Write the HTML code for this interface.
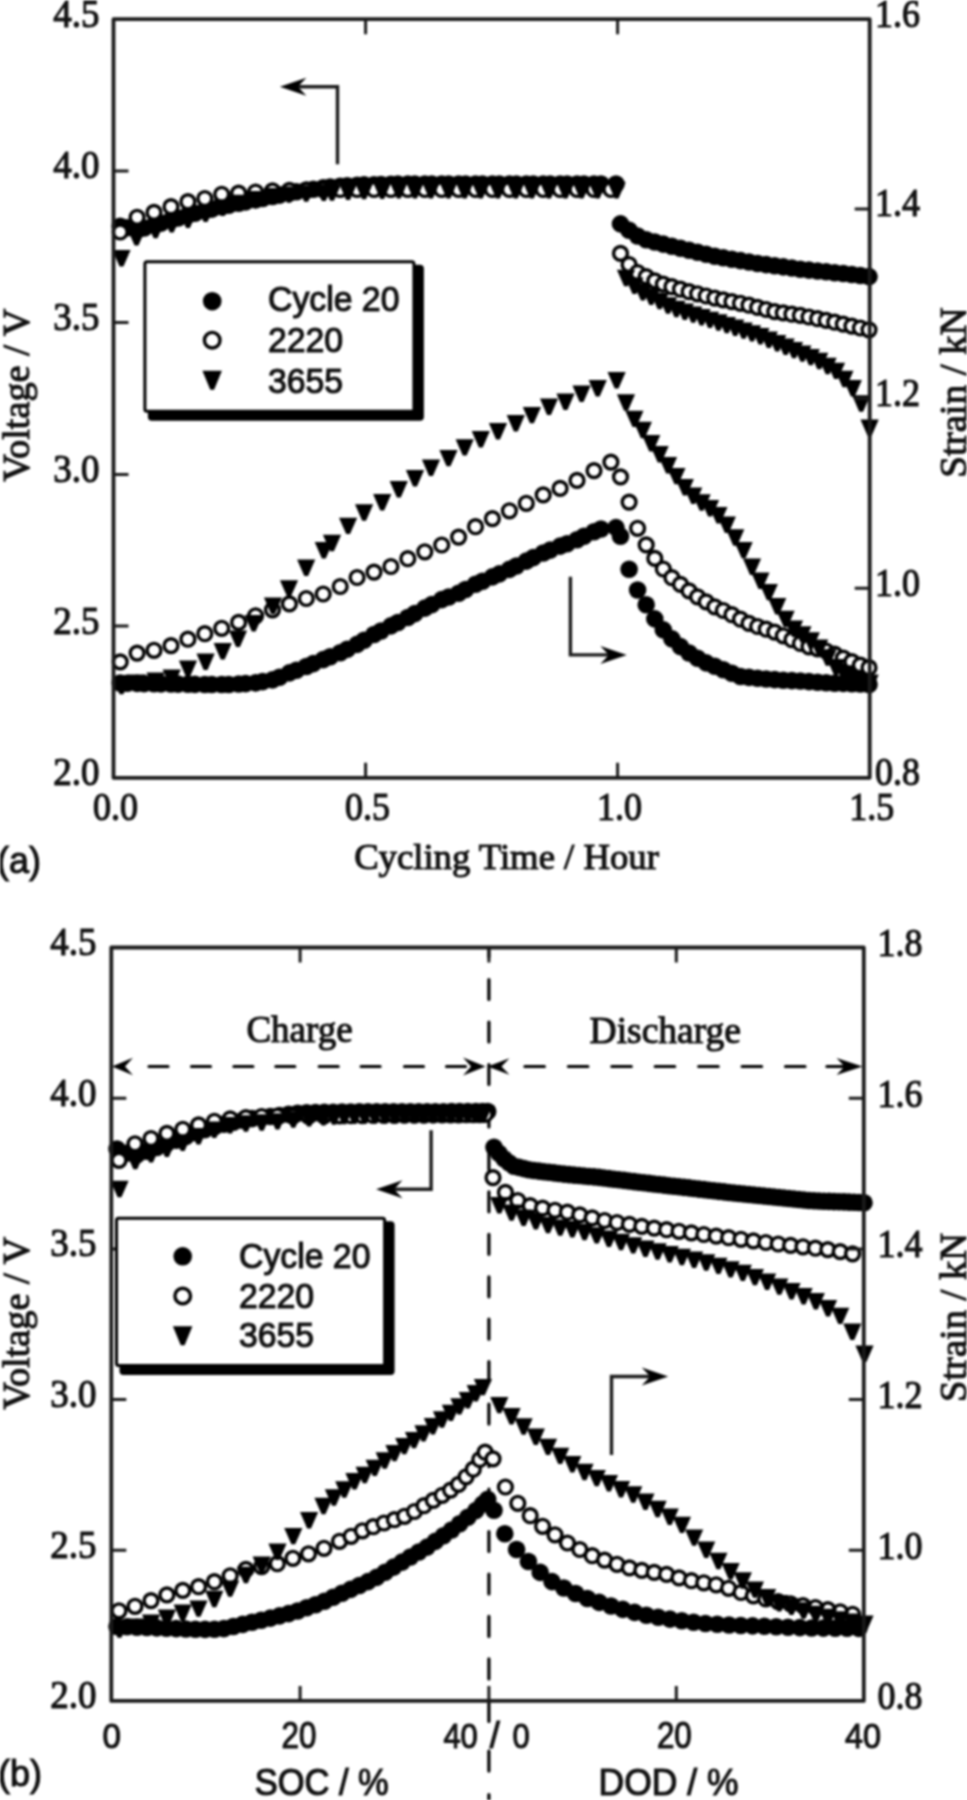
<!DOCTYPE html>
<html><head><meta charset="utf-8"><title>Figure</title>
<style>html,body{margin:0;padding:0;background:#fff;}body{width:967px;height:1800px;overflow:hidden;}svg{display:block;filter:blur(1px);}</style>
</head><body>
<svg width="967" height="1800" viewBox="0 0 967 1800">
<rect width="967" height="1800" fill="#fff"/>
<g fill="#000"><circle cx="120.2" cy="683.0" r="8.8"/><circle cx="127.2" cy="683.2" r="8.8"/><circle cx="137.1" cy="683.4" r="8.8"/><circle cx="144.1" cy="683.6" r="8.8"/><circle cx="154.0" cy="683.7" r="8.8"/><circle cx="161.0" cy="683.9" r="8.8"/><circle cx="171.0" cy="684.0" r="8.8"/><circle cx="178.0" cy="684.1" r="8.8"/><circle cx="187.9" cy="684.3" r="8.8"/><circle cx="194.9" cy="684.4" r="8.8"/><circle cx="204.8" cy="684.5" r="8.8"/><circle cx="211.8" cy="684.5" r="8.8"/><circle cx="221.7" cy="684.5" r="8.8"/><circle cx="228.7" cy="684.5" r="8.8"/><circle cx="238.6" cy="684.0" r="8.8"/><circle cx="245.6" cy="683.6" r="8.8"/><circle cx="255.6" cy="682.9" r="8.8"/><circle cx="262.6" cy="681.6" r="8.8"/><circle cx="272.5" cy="679.9" r="8.8"/><circle cx="279.5" cy="677.2" r="8.8"/><circle cx="289.4" cy="672.9" r="8.8"/><circle cx="296.4" cy="670.2" r="8.8"/><circle cx="306.3" cy="666.5" r="8.8"/><circle cx="313.3" cy="663.6" r="8.8"/><circle cx="323.2" cy="659.6" r="8.8"/><circle cx="330.2" cy="656.8" r="8.8"/><circle cx="340.2" cy="652.7" r="8.8"/><circle cx="347.2" cy="649.3" r="8.8"/><circle cx="357.1" cy="644.4" r="8.8"/><circle cx="364.1" cy="640.2" r="8.8"/><circle cx="374.0" cy="634.5" r="8.8"/><circle cx="381.0" cy="631.0" r="8.8"/><circle cx="390.9" cy="625.9" r="8.8"/><circle cx="397.9" cy="622.5" r="8.8"/><circle cx="407.8" cy="617.5" r="8.8"/><circle cx="414.8" cy="613.6" r="8.8"/><circle cx="424.8" cy="608.1" r="8.8"/><circle cx="431.8" cy="604.6" r="8.8"/><circle cx="441.7" cy="599.6" r="8.8"/><circle cx="448.7" cy="597.0" r="8.8"/><circle cx="458.6" cy="593.2" r="8.8"/><circle cx="465.6" cy="589.5" r="8.8"/><circle cx="475.5" cy="584.3" r="8.8"/><circle cx="482.5" cy="581.3" r="8.8"/><circle cx="492.4" cy="576.9" r="8.8"/><circle cx="499.4" cy="573.9" r="8.8"/><circle cx="509.4" cy="569.4" r="8.8"/><circle cx="516.4" cy="566.0" r="8.8"/><circle cx="526.3" cy="561.1" r="8.8"/><circle cx="533.3" cy="557.6" r="8.8"/><circle cx="543.2" cy="553.0" r="8.8"/><circle cx="550.2" cy="550.1" r="8.8"/><circle cx="560.1" cy="546.1" r="8.8"/><circle cx="567.1" cy="543.7" r="8.8"/><circle cx="577.0" cy="539.8" r="8.8"/><circle cx="584.0" cy="536.3" r="8.8"/><circle cx="594.0" cy="531.8" r="8.8"/><circle cx="601.0" cy="529.0" r="8.8"/><circle cx="616.0" cy="527.6" r="8.8"/><circle cx="620.5" cy="536.2" r="8.8"/><circle cx="629.1" cy="569.3" r="8.8"/><circle cx="637.6" cy="590.0" r="8.8"/><circle cx="646.2" cy="604.7" r="8.8"/><circle cx="654.8" cy="618.9" r="8.8"/><circle cx="663.3" cy="629.9" r="8.8"/><circle cx="671.9" cy="638.9" r="8.8"/><circle cx="680.5" cy="646.6" r="8.8"/><circle cx="689.1" cy="653.0" r="8.8"/><circle cx="697.6" cy="658.2" r="8.8"/><circle cx="706.2" cy="662.9" r="8.8"/><circle cx="714.8" cy="666.3" r="8.8"/><circle cx="723.3" cy="669.7" r="8.8"/><circle cx="731.9" cy="673.2" r="8.8"/><circle cx="740.5" cy="676.5" r="8.8"/><circle cx="749.0" cy="677.4" r="8.8"/><circle cx="757.6" cy="678.3" r="8.8"/><circle cx="766.2" cy="679.0" r="8.8"/><circle cx="774.7" cy="679.6" r="8.8"/><circle cx="783.3" cy="680.2" r="8.8"/><circle cx="791.9" cy="680.6" r="8.8"/><circle cx="800.4" cy="681.0" r="8.8"/><circle cx="809.0" cy="681.6" r="8.8"/><circle cx="817.6" cy="682.2" r="8.8"/><circle cx="826.2" cy="682.7" r="8.8"/><circle cx="834.7" cy="683.2" r="8.8"/><circle cx="843.3" cy="683.4" r="8.8"/><circle cx="851.9" cy="683.7" r="8.8"/><circle cx="860.4" cy="684.0" r="8.8"/><circle cx="869.0" cy="684.5" r="8.8"/><circle cx="120.2" cy="226.3" r="8.8"/><circle cx="127.2" cy="227.8" r="8.8"/><circle cx="137.1" cy="230.0" r="8.8"/><circle cx="144.1" cy="228.0" r="8.8"/><circle cx="154.0" cy="225.3" r="8.8"/><circle cx="161.0" cy="223.1" r="8.8"/><circle cx="171.0" cy="220.0" r="8.8"/><circle cx="178.0" cy="218.0" r="8.8"/><circle cx="187.9" cy="215.0" r="8.8"/><circle cx="194.9" cy="213.3" r="8.8"/><circle cx="204.8" cy="210.8" r="8.8"/><circle cx="211.8" cy="209.1" r="8.8"/><circle cx="221.7" cy="206.8" r="8.8"/><circle cx="228.7" cy="205.3" r="8.8"/><circle cx="238.6" cy="203.3" r="8.8"/><circle cx="245.6" cy="201.9" r="8.8"/><circle cx="255.6" cy="199.9" r="8.8"/><circle cx="262.6" cy="198.5" r="8.8"/><circle cx="272.5" cy="196.5" r="8.8"/><circle cx="279.5" cy="195.1" r="8.8"/><circle cx="289.4" cy="193.1" r="8.8"/><circle cx="296.4" cy="191.7" r="8.8"/><circle cx="306.3" cy="190.2" r="8.8"/><circle cx="313.3" cy="189.2" r="8.8"/><circle cx="323.2" cy="187.9" r="8.8"/><circle cx="330.2" cy="187.0" r="8.8"/><circle cx="340.2" cy="186.3" r="8.8"/><circle cx="347.2" cy="185.9" r="8.8"/><circle cx="357.1" cy="185.2" r="8.8"/><circle cx="364.1" cy="184.9" r="8.8"/><circle cx="374.0" cy="184.7" r="8.8"/><circle cx="381.0" cy="184.5" r="8.8"/><circle cx="390.9" cy="184.2" r="8.8"/><circle cx="397.9" cy="184.1" r="8.8"/><circle cx="407.8" cy="184.0" r="8.8"/><circle cx="414.8" cy="184.0" r="8.8"/><circle cx="424.8" cy="184.0" r="8.8"/><circle cx="431.8" cy="184.0" r="8.8"/><circle cx="441.7" cy="184.0" r="8.8"/><circle cx="448.7" cy="184.0" r="8.8"/><circle cx="458.6" cy="184.0" r="8.8"/><circle cx="465.6" cy="184.0" r="8.8"/><circle cx="475.5" cy="184.0" r="8.8"/><circle cx="482.5" cy="184.0" r="8.8"/><circle cx="492.4" cy="184.0" r="8.8"/><circle cx="499.4" cy="184.0" r="8.8"/><circle cx="509.4" cy="184.0" r="8.8"/><circle cx="516.4" cy="184.0" r="8.8"/><circle cx="526.3" cy="184.0" r="8.8"/><circle cx="533.3" cy="184.0" r="8.8"/><circle cx="543.2" cy="184.0" r="8.8"/><circle cx="550.2" cy="184.0" r="8.8"/><circle cx="560.1" cy="184.0" r="8.8"/><circle cx="567.1" cy="184.0" r="8.8"/><circle cx="577.0" cy="184.0" r="8.8"/><circle cx="584.0" cy="184.0" r="8.8"/><circle cx="594.0" cy="184.0" r="8.8"/><circle cx="601.0" cy="184.0" r="8.8"/><circle cx="616.0" cy="184.0" r="8.8"/><circle cx="620.5" cy="223.9" r="8.8"/><circle cx="629.1" cy="230.3" r="8.8"/><circle cx="637.6" cy="236.0" r="8.8"/><circle cx="646.2" cy="239.8" r="8.8"/><circle cx="654.8" cy="242.0" r="8.8"/><circle cx="663.3" cy="244.1" r="8.8"/><circle cx="671.9" cy="246.3" r="8.8"/><circle cx="680.5" cy="248.3" r="8.8"/><circle cx="689.1" cy="250.3" r="8.8"/><circle cx="697.6" cy="252.2" r="8.8"/><circle cx="706.2" cy="254.2" r="8.8"/><circle cx="714.8" cy="256.2" r="8.8"/><circle cx="723.3" cy="257.7" r="8.8"/><circle cx="731.9" cy="259.2" r="8.8"/><circle cx="740.5" cy="260.6" r="8.8"/><circle cx="749.0" cy="262.0" r="8.8"/><circle cx="757.6" cy="263.5" r="8.8"/><circle cx="766.2" cy="264.6" r="8.8"/><circle cx="774.7" cy="265.8" r="8.8"/><circle cx="783.3" cy="266.9" r="8.8"/><circle cx="791.9" cy="268.0" r="8.8"/><circle cx="800.4" cy="269.2" r="8.8"/><circle cx="809.0" cy="270.1" r="8.8"/><circle cx="817.6" cy="271.0" r="8.8"/><circle cx="826.2" cy="271.8" r="8.8"/><circle cx="834.7" cy="272.7" r="8.8"/><circle cx="843.3" cy="273.5" r="8.8"/><circle cx="851.9" cy="274.5" r="8.8"/><circle cx="860.4" cy="275.5" r="8.8"/><circle cx="869.0" cy="276.6" r="8.8"/></g><g fill="#fff" stroke="#000" stroke-width="3.4"><circle cx="120.2" cy="661.9" r="6.9"/><circle cx="137.1" cy="653.1" r="6.9"/><circle cx="154.0" cy="650.3" r="6.9"/><circle cx="171.0" cy="645.6" r="6.9"/><circle cx="187.9" cy="639.2" r="6.9"/><circle cx="204.8" cy="633.7" r="6.9"/><circle cx="221.7" cy="628.3" r="6.9"/><circle cx="238.6" cy="622.4" r="6.9"/><circle cx="255.6" cy="615.8" r="6.9"/><circle cx="272.5" cy="609.8" r="6.9"/><circle cx="289.4" cy="603.9" r="6.9"/><circle cx="306.3" cy="598.5" r="6.9"/><circle cx="323.2" cy="594.0" r="6.9"/><circle cx="340.2" cy="586.5" r="6.9"/><circle cx="357.1" cy="577.5" r="6.9"/><circle cx="374.0" cy="572.1" r="6.9"/><circle cx="390.9" cy="566.5" r="6.9"/><circle cx="407.8" cy="558.7" r="6.9"/><circle cx="424.8" cy="551.8" r="6.9"/><circle cx="441.7" cy="545.0" r="6.9"/><circle cx="458.6" cy="537.1" r="6.9"/><circle cx="475.5" cy="526.7" r="6.9"/><circle cx="492.4" cy="518.6" r="6.9"/><circle cx="509.4" cy="510.8" r="6.9"/><circle cx="526.3" cy="503.3" r="6.9"/><circle cx="543.2" cy="494.9" r="6.9"/><circle cx="560.1" cy="488.4" r="6.9"/><circle cx="577.0" cy="480.4" r="6.9"/><circle cx="594.0" cy="470.6" r="6.9"/><circle cx="610.9" cy="462.1" r="6.9"/><circle cx="620.5" cy="476.9" r="6.9"/><circle cx="629.1" cy="502.1" r="6.9"/><circle cx="637.6" cy="528.3" r="6.9"/><circle cx="646.2" cy="544.9" r="6.9"/><circle cx="654.8" cy="558.4" r="6.9"/><circle cx="663.3" cy="569.0" r="6.9"/><circle cx="671.9" cy="577.7" r="6.9"/><circle cx="680.5" cy="584.4" r="6.9"/><circle cx="689.1" cy="590.9" r="6.9"/><circle cx="697.6" cy="596.9" r="6.9"/><circle cx="706.2" cy="601.9" r="6.9"/><circle cx="714.8" cy="606.9" r="6.9"/><circle cx="723.3" cy="610.5" r="6.9"/><circle cx="731.9" cy="614.7" r="6.9"/><circle cx="740.5" cy="619.2" r="6.9"/><circle cx="749.0" cy="623.4" r="6.9"/><circle cx="757.6" cy="626.5" r="6.9"/><circle cx="766.2" cy="629.2" r="6.9"/><circle cx="774.7" cy="632.1" r="6.9"/><circle cx="783.3" cy="635.8" r="6.9"/><circle cx="791.9" cy="639.7" r="6.9"/><circle cx="800.4" cy="643.5" r="6.9"/><circle cx="809.0" cy="646.8" r="6.9"/><circle cx="817.6" cy="648.9" r="6.9"/><circle cx="826.2" cy="651.0" r="6.9"/><circle cx="834.7" cy="654.2" r="6.9"/><circle cx="843.3" cy="658.2" r="6.9"/><circle cx="851.9" cy="661.7" r="6.9"/><circle cx="860.4" cy="665.1" r="6.9"/><circle cx="869.0" cy="667.7" r="6.9"/><circle cx="120.2" cy="232.0" r="6.9"/><circle cx="137.1" cy="217.3" r="6.9"/><circle cx="154.0" cy="212.4" r="6.9"/><circle cx="171.0" cy="206.7" r="6.9"/><circle cx="187.9" cy="201.7" r="6.9"/><circle cx="204.8" cy="198.5" r="6.9"/><circle cx="221.7" cy="194.3" r="6.9"/><circle cx="238.6" cy="193.1" r="6.9"/><circle cx="255.6" cy="192.0" r="6.9"/><circle cx="272.5" cy="190.9" r="6.9"/><circle cx="289.4" cy="190.4" r="6.9"/><circle cx="306.3" cy="189.9" r="6.9"/><circle cx="323.2" cy="189.7" r="6.9"/><circle cx="340.2" cy="189.5" r="6.9"/><circle cx="357.1" cy="189.5" r="6.9"/><circle cx="374.0" cy="189.5" r="6.9"/><circle cx="390.9" cy="189.5" r="6.9"/><circle cx="407.8" cy="189.5" r="6.9"/><circle cx="424.8" cy="189.5" r="6.9"/><circle cx="441.7" cy="189.5" r="6.9"/><circle cx="458.6" cy="189.5" r="6.9"/><circle cx="475.5" cy="189.5" r="6.9"/><circle cx="492.4" cy="189.5" r="6.9"/><circle cx="509.4" cy="189.5" r="6.9"/><circle cx="526.3" cy="189.5" r="6.9"/><circle cx="543.2" cy="189.5" r="6.9"/><circle cx="560.1" cy="189.5" r="6.9"/><circle cx="577.0" cy="189.5" r="6.9"/><circle cx="594.0" cy="189.5" r="6.9"/><circle cx="610.9" cy="189.5" r="6.9"/><circle cx="620.5" cy="253.4" r="6.9"/><circle cx="629.1" cy="264.5" r="6.9"/><circle cx="637.6" cy="272.5" r="6.9"/><circle cx="646.2" cy="276.7" r="6.9"/><circle cx="654.8" cy="280.9" r="6.9"/><circle cx="663.3" cy="284.1" r="6.9"/><circle cx="671.9" cy="286.7" r="6.9"/><circle cx="680.5" cy="289.2" r="6.9"/><circle cx="689.1" cy="291.7" r="6.9"/><circle cx="697.6" cy="293.8" r="6.9"/><circle cx="706.2" cy="296.0" r="6.9"/><circle cx="714.8" cy="298.1" r="6.9"/><circle cx="723.3" cy="299.9" r="6.9"/><circle cx="731.9" cy="301.6" r="6.9"/><circle cx="740.5" cy="303.3" r="6.9"/><circle cx="749.0" cy="305.2" r="6.9"/><circle cx="757.6" cy="307.4" r="6.9"/><circle cx="766.2" cy="309.5" r="6.9"/><circle cx="774.7" cy="311.6" r="6.9"/><circle cx="783.3" cy="312.9" r="6.9"/><circle cx="791.9" cy="314.2" r="6.9"/><circle cx="800.4" cy="315.4" r="6.9"/><circle cx="809.0" cy="317.0" r="6.9"/><circle cx="817.6" cy="318.7" r="6.9"/><circle cx="826.2" cy="320.4" r="6.9"/><circle cx="834.7" cy="322.2" r="6.9"/><circle cx="843.3" cy="324.1" r="6.9"/><circle cx="851.9" cy="326.1" r="6.9"/><circle cx="860.4" cy="328.0" r="6.9"/><circle cx="869.0" cy="329.8" r="6.9"/></g><g fill="#000"><path d="M112.4 677.8H130.6L123.4 694.2H119.6Z"/><path d="M127.4 674.5H145.6L138.4 690.9H134.6Z"/><path d="M146.5 672.5H164.7L157.5 688.9H153.7Z"/><path d="M162.6 669.5H180.8L173.6 685.9H169.8Z"/><path d="M178.9 660.5H197.1L189.9 676.9H186.1Z"/><path d="M196.5 653.5H214.7L207.5 669.9H203.7Z"/><path d="M213.6 643.0H231.8L224.6 659.4H220.8Z"/><path d="M228.9 630.5H247.1L239.9 646.9H236.1Z"/><path d="M244.6 615.1H262.8L255.6 631.5H251.8Z"/><path d="M263.9 597.5H282.1L274.9 613.9H271.1Z"/><path d="M279.9 580.2H298.1L290.9 596.6H287.1Z"/><path d="M297.1 559.6H315.3L308.1 576.0H304.3Z"/><path d="M314.7 542.0H332.9L325.7 558.4H321.9Z"/><path d="M322.9 534.8H341.1L333.9 551.2H330.1Z"/><path d="M339.0 517.7H357.2L350.0 534.1H346.2Z"/><path d="M355.0 504.3H373.2L366.0 520.7H362.2Z"/><path d="M373.1 494.0H391.3L384.1 510.4H380.3Z"/><path d="M389.7 481.0H407.9L400.7 497.4H396.9Z"/><path d="M405.9 470.1H424.1L416.9 486.5H413.1Z"/><path d="M421.9 459.5H440.1L432.9 475.9H429.1Z"/><path d="M439.4 449.9H457.6L450.4 466.3H446.6Z"/><path d="M455.6 439.2H473.8L466.6 455.6H462.8Z"/><path d="M471.7 431.1H489.9L482.7 447.5H478.9Z"/><path d="M488.9 423.0H507.1L499.9 439.4H496.1Z"/><path d="M506.7 415.0H524.9L517.7 431.4H513.9Z"/><path d="M522.8 406.9H541.0L533.8 423.3H530.0Z"/><path d="M539.9 398.5H558.1L550.9 414.9H547.1Z"/><path d="M556.4 393.5H574.6L567.4 409.9H563.6Z"/><path d="M572.5 385.5H590.7L583.5 401.9H579.7Z"/><path d="M588.6 380.0H606.8L599.6 396.4H595.8Z"/><path d="M607.5 372.0H625.7L618.5 388.4H614.7Z"/><path d="M616.9 394.3H635.1L627.9 410.7H624.1Z"/><path d="M625.3 410.7H643.5L636.3 427.1H632.5Z"/><path d="M633.7 421.8H651.9L644.7 438.2H640.9Z"/><path d="M642.1 435.0H660.3L653.1 451.4H649.3Z"/><path d="M650.5 446.1H668.7L661.5 462.5H657.7Z"/><path d="M658.9 457.0H677.1L669.9 473.4H666.1Z"/><path d="M667.3 467.9H685.5L678.3 484.3H674.5Z"/><path d="M675.7 479.1H693.9L686.7 495.5H682.9Z"/><path d="M684.1 487.5H702.3L695.1 503.9H691.3Z"/><path d="M692.5 494.3H710.7L703.5 510.7H699.7Z"/><path d="M700.9 500.1H719.1L711.9 516.5H708.1Z"/><path d="M709.3 507.1H727.5L720.3 523.5H716.5Z"/><path d="M717.7 516.6H735.9L728.7 533.0H724.9Z"/><path d="M726.1 529.3H744.3L737.1 545.7H733.3Z"/><path d="M734.5 541.9H752.7L745.5 558.3H741.7Z"/><path d="M742.9 558.6H761.1L753.9 575.0H750.1Z"/><path d="M751.3 572.6H769.5L762.3 589.0H758.5Z"/><path d="M759.7 583.9H777.9L770.7 600.3H766.9Z"/><path d="M768.1 598.0H786.3L779.1 614.4H775.3Z"/><path d="M776.5 610.7H794.7L787.5 627.1H783.7Z"/><path d="M784.9 620.5H803.1L795.9 636.9H792.1Z"/><path d="M793.3 626.2H811.5L804.3 642.6H800.5Z"/><path d="M801.7 632.2H819.9L812.7 648.6H808.9Z"/><path d="M810.1 639.6H828.3L821.1 656.0H817.3Z"/><path d="M818.5 649.3H836.7L829.5 665.7H825.7Z"/><path d="M826.9 658.9H845.1L837.9 675.3H834.1Z"/><path d="M835.3 665.2H853.5L846.3 681.6H842.5Z"/><path d="M843.7 669.7H861.9L854.7 686.1H850.9Z"/><path d="M852.1 672.8H870.3L863.1 689.2H859.3Z"/><path d="M860.5 674.5H878.7L871.5 690.9H867.7Z"/><path d="M112.4 250.0H130.6L123.4 266.4H119.6Z"/><path d="M127.4 229.0H145.6L138.4 245.4H134.6Z"/><path d="M146.5 221.9H164.7L157.5 238.3H153.7Z"/><path d="M162.6 216.2H180.8L173.6 232.6H169.8Z"/><path d="M178.9 211.5H197.1L189.9 227.9H186.1Z"/><path d="M196.5 205.7H214.7L207.5 222.1H203.7Z"/><path d="M213.6 199.6H231.8L224.6 216.0H220.8Z"/><path d="M228.9 194.7H247.1L239.9 211.1H236.1Z"/><path d="M244.6 191.0H262.8L255.6 207.4H251.8Z"/><path d="M263.9 187.9H282.1L274.9 204.3H271.1Z"/><path d="M279.9 186.4H298.1L290.9 202.8H287.1Z"/><path d="M297.1 185.3H315.3L308.1 201.7H304.3Z"/><path d="M314.7 184.7H332.9L325.7 201.1H321.9Z"/><path d="M322.9 184.4H341.1L333.9 200.8H330.1Z"/><path d="M339.0 183.6H357.2L350.0 200.0H346.2Z"/><path d="M355.0 182.9H373.2L366.0 199.3H362.2Z"/><path d="M373.1 182.5H391.3L384.1 198.9H380.3Z"/><path d="M389.7 182.1H407.9L400.7 198.5H396.9Z"/><path d="M405.9 182.0H424.1L416.9 198.4H413.1Z"/><path d="M421.9 182.0H440.1L432.9 198.4H429.1Z"/><path d="M439.4 182.0H457.6L450.4 198.4H446.6Z"/><path d="M455.6 182.0H473.8L466.6 198.4H462.8Z"/><path d="M471.7 182.0H489.9L482.7 198.4H478.9Z"/><path d="M488.9 182.0H507.1L499.9 198.4H496.1Z"/><path d="M506.7 182.0H524.9L517.7 198.4H513.9Z"/><path d="M522.8 182.0H541.0L533.8 198.4H530.0Z"/><path d="M539.9 182.0H558.1L550.9 198.4H547.1Z"/><path d="M556.4 182.0H574.6L567.4 198.4H563.6Z"/><path d="M572.5 182.0H590.7L583.5 198.4H579.7Z"/><path d="M588.6 182.0H606.8L599.6 198.4H595.8Z"/><path d="M607.5 182.0H625.7L618.5 198.4H614.7Z"/><path d="M616.9 269.8H635.1L627.9 286.2H624.1Z"/><path d="M625.3 277.6H643.5L636.3 294.0H632.5Z"/><path d="M633.7 284.1H651.9L644.7 300.5H640.9Z"/><path d="M642.1 288.6H660.3L653.1 305.0H649.3Z"/><path d="M650.5 292.9H668.7L661.5 309.3H657.7Z"/><path d="M658.9 297.3H677.1L669.9 313.7H666.1Z"/><path d="M667.3 300.8H685.5L678.3 317.2H674.5Z"/><path d="M675.7 303.6H693.9L686.7 320.0H682.9Z"/><path d="M684.1 306.4H702.3L695.1 322.8H691.3Z"/><path d="M692.5 309.1H710.7L703.5 325.5H699.7Z"/><path d="M700.9 311.7H719.1L711.9 328.1H708.1Z"/><path d="M709.3 314.3H727.5L720.3 330.7H716.5Z"/><path d="M717.7 316.9H735.9L728.7 333.3H724.9Z"/><path d="M726.1 319.6H744.3L737.1 336.0H733.3Z"/><path d="M734.5 322.4H752.7L745.5 338.8H741.7Z"/><path d="M742.9 325.2H761.1L753.9 341.6H750.1Z"/><path d="M751.3 328.0H769.5L762.3 344.4H758.5Z"/><path d="M759.7 331.5H777.9L770.7 347.9H766.9Z"/><path d="M768.1 335.0H786.3L779.1 351.4H775.3Z"/><path d="M776.5 338.5H794.7L787.5 354.9H783.7Z"/><path d="M784.9 341.9H803.1L795.9 358.3H792.1Z"/><path d="M793.3 345.4H811.5L804.3 361.8H800.5Z"/><path d="M801.7 348.9H819.9L812.7 365.3H808.9Z"/><path d="M810.1 352.8H828.3L821.1 369.2H817.3Z"/><path d="M818.5 357.8H836.7L829.5 374.2H825.7Z"/><path d="M826.9 362.7H845.1L837.9 379.1H834.1Z"/><path d="M835.3 370.8H853.5L846.3 387.2H842.5Z"/><path d="M843.7 380.1H861.9L854.7 396.5H850.9Z"/><path d="M852.1 395.3H870.3L863.1 411.7H859.3Z"/><path d="M860.5 419.5H878.7L871.5 435.9H867.7Z"/></g>
<rect x="113.5" y="19.2" width="756.2" height="758.6" fill="none" stroke="#1a1a1a" stroke-width="3.8" stroke-linejoin="round"/><path d="M365.6 777.8V762.8M365.6 19.2V34.2M617.6 777.8V762.8M617.6 19.2V34.2M113.5 626.1H128.5M113.5 474.4H128.5M113.5 322.6H128.5M113.5 170.9H128.5M869.7 588.2H854.7M869.7 398.5H854.7M869.7 208.9H854.7" stroke="#1a1a1a" stroke-width="3" fill="none"/>
<rect x="147.9" y="264.8" width="276.0" height="156.0" rx="4" fill="#000"/><rect x="144.9" y="261.8" width="269.0" height="149.5" rx="2" fill="#fff" stroke="#000" stroke-width="3"/><circle cx="212.2" cy="301.2" r="9.3" fill="#000"/><circle cx="212.2" cy="340.2" r="7.8" fill="#fff" stroke="#000" stroke-width="3.4"/><g fill="#000"><path d="M202.4 370.8H221.9L214.1 389.8H210.3Z"/></g><text transform="translate(268.0,311.0) scale(1.0,1.06)" font-family="'Liberation Sans', Arial, sans-serif" font-size="33.8" text-anchor="start" fill="#111" stroke="#111" stroke-width="1.1" >Cycle 20</text><text transform="translate(268.0,352.0) scale(1.0,1.06)" font-family="'Liberation Sans', Arial, sans-serif" font-size="33.8" text-anchor="start" fill="#111" stroke="#111" stroke-width="1.1" >2220</text><text transform="translate(268.0,392.5) scale(1.0,1.06)" font-family="'Liberation Sans', Arial, sans-serif" font-size="33.8" text-anchor="start" fill="#111" stroke="#111" stroke-width="1.1" >3655</text>
<path d="M337.5 164.2V86.7H296" fill="none" stroke="#1a1a1a" stroke-width="3.4"/>
<path d="M279.9 86.7L306.4 77.7L297.9 86.7L306.4 95.7Z" fill="#000"/>
<path d="M570.4 576.7V654.9H612" fill="none" stroke="#1a1a1a" stroke-width="3.4"/>
<path d="M626.8 654.9L600.3 645.9L608.8 654.9L600.3 663.9Z" fill="#000"/>
<text transform="translate(99.5,785.3) scale(1.0,1.1)" font-family="'Liberation Serif', 'Times New Roman', serif" font-size="37" text-anchor="end" fill="#111" stroke="#111" stroke-width="1.1" >2.0</text>
<text transform="translate(99.5,633.6) scale(1.0,1.1)" font-family="'Liberation Serif', 'Times New Roman', serif" font-size="37" text-anchor="end" fill="#111" stroke="#111" stroke-width="1.1" >2.5</text>
<text transform="translate(99.5,481.9) scale(1.0,1.1)" font-family="'Liberation Serif', 'Times New Roman', serif" font-size="37" text-anchor="end" fill="#111" stroke="#111" stroke-width="1.1" >3.0</text>
<text transform="translate(99.5,330.1) scale(1.0,1.1)" font-family="'Liberation Serif', 'Times New Roman', serif" font-size="37" text-anchor="end" fill="#111" stroke="#111" stroke-width="1.1" >3.5</text>
<text transform="translate(99.5,178.4) scale(1.0,1.1)" font-family="'Liberation Serif', 'Times New Roman', serif" font-size="37" text-anchor="end" fill="#111" stroke="#111" stroke-width="1.1" >4.0</text>
<text transform="translate(99.5,26.7) scale(1.0,1.1)" font-family="'Liberation Serif', 'Times New Roman', serif" font-size="37" text-anchor="end" fill="#111" stroke="#111" stroke-width="1.1" >4.5</text>
<text transform="translate(875.0,785.3) scale(1.0,1.1)" font-family="'Liberation Serif', 'Times New Roman', serif" font-size="36" text-anchor="start" fill="#111" stroke="#111" stroke-width="1.1" >0.8</text>
<text transform="translate(875.0,595.7) scale(1.0,1.1)" font-family="'Liberation Serif', 'Times New Roman', serif" font-size="36" text-anchor="start" fill="#111" stroke="#111" stroke-width="1.1" >1.0</text>
<text transform="translate(875.0,406.0) scale(1.0,1.1)" font-family="'Liberation Serif', 'Times New Roman', serif" font-size="36" text-anchor="start" fill="#111" stroke="#111" stroke-width="1.1" >1.2</text>
<text transform="translate(875.0,216.4) scale(1.0,1.1)" font-family="'Liberation Serif', 'Times New Roman', serif" font-size="36" text-anchor="start" fill="#111" stroke="#111" stroke-width="1.1" >1.4</text>
<text transform="translate(875.0,26.7) scale(1.0,1.1)" font-family="'Liberation Serif', 'Times New Roman', serif" font-size="36" text-anchor="start" fill="#111" stroke="#111" stroke-width="1.1" >1.6</text>
<text transform="translate(115.5,820.3) scale(1.0,1.1)" font-family="'Liberation Serif', 'Times New Roman', serif" font-size="36" text-anchor="middle" fill="#111" stroke="#111" stroke-width="1.1" >0.0</text>
<text transform="translate(367.6,820.3) scale(1.0,1.1)" font-family="'Liberation Serif', 'Times New Roman', serif" font-size="36" text-anchor="middle" fill="#111" stroke="#111" stroke-width="1.1" >0.5</text>
<text transform="translate(619.6,820.3) scale(1.0,1.1)" font-family="'Liberation Serif', 'Times New Roman', serif" font-size="36" text-anchor="middle" fill="#111" stroke="#111" stroke-width="1.1" >1.0</text>
<text transform="translate(871.7,820.3) scale(1.0,1.1)" font-family="'Liberation Serif', 'Times New Roman', serif" font-size="36" text-anchor="middle" fill="#111" stroke="#111" stroke-width="1.1" >1.5</text>
<text transform="translate(506.5,869.4)" font-family="'Liberation Serif', 'Times New Roman', serif" font-size="36.7" text-anchor="middle" fill="#111" stroke="#111" stroke-width="1.1" >Cycling Time / Hour</text>
<text transform="translate(29.0,395.2) rotate(-90)" font-family="'Liberation Serif', 'Times New Roman', serif" font-size="38.3" text-anchor="middle" fill="#111" stroke="#111" stroke-width="1.1" >Voltage / V</text>
<text transform="translate(966.0,392.5) rotate(-90)" font-family="'Liberation Serif', 'Times New Roman', serif" font-size="38.8" text-anchor="middle" fill="#111" stroke="#111" stroke-width="1.1" >Strain / kN</text>
<text transform="translate(-3.0,873.0)" font-family="'Liberation Sans', Arial, sans-serif" font-size="36" text-anchor="start" fill="#111" stroke="#111" stroke-width="1.1" >(a)</text>
<path d="M488.9 947.5V957.1M488.9 979.5V999.5M488.9 1022.0V1042.0M488.9 1064.5V1084.5M488.9 1106.9V1126.9M488.9 1149.4V1169.4M488.9 1191.8V1211.8M488.9 1234.3V1254.3M488.9 1276.8V1296.8M488.9 1319.2V1339.2M488.9 1361.7V1381.7M488.9 1404.1V1424.1M488.9 1446.6V1466.6M488.9 1489.1V1509.1M488.9 1531.5V1551.5M488.9 1574.0V1594.0M488.9 1616.4V1636.4M488.9 1658.9V1678.9M488.9 1701.4V1721.4M488.9 1751.1V1771.1M488.9 1794.5V1800.0" stroke="#000" stroke-width="3.2" fill="none" stroke-linecap="round"/>
<g fill="#000"><circle cx="117.0" cy="1626.5" r="8.8"/><circle cx="127.0" cy="1626.8" r="8.8"/><circle cx="136.9" cy="1627.2" r="8.8"/><circle cx="146.8" cy="1627.5" r="8.8"/><circle cx="156.7" cy="1627.9" r="8.8"/><circle cx="166.4" cy="1628.2" r="8.8"/><circle cx="176.2" cy="1628.6" r="8.8"/><circle cx="185.8" cy="1629.0" r="8.8"/><circle cx="195.4" cy="1629.3" r="8.8"/><circle cx="205.0" cy="1629.4" r="8.8"/><circle cx="214.5" cy="1629.2" r="8.8"/><circle cx="223.9" cy="1628.6" r="8.8"/><circle cx="233.3" cy="1626.5" r="8.8"/><circle cx="242.7" cy="1624.4" r="8.8"/><circle cx="252.0" cy="1622.3" r="8.8"/><circle cx="261.2" cy="1620.3" r="8.8"/><circle cx="270.4" cy="1618.1" r="8.8"/><circle cx="279.5" cy="1615.9" r="8.8"/><circle cx="288.6" cy="1613.6" r="8.8"/><circle cx="297.6" cy="1611.0" r="8.8"/><circle cx="306.6" cy="1607.8" r="8.8"/><circle cx="315.5" cy="1604.7" r="8.8"/><circle cx="324.4" cy="1601.2" r="8.8"/><circle cx="333.2" cy="1597.3" r="8.8"/><circle cx="342.0" cy="1593.3" r="8.8"/><circle cx="350.7" cy="1589.4" r="8.8"/><circle cx="359.4" cy="1585.5" r="8.8"/><circle cx="368.0" cy="1581.6" r="8.8"/><circle cx="376.6" cy="1577.4" r="8.8"/><circle cx="385.1" cy="1572.2" r="8.8"/><circle cx="393.6" cy="1567.1" r="8.8"/><circle cx="402.0" cy="1562.1" r="8.8"/><circle cx="410.4" cy="1557.0" r="8.8"/><circle cx="418.8" cy="1552.0" r="8.8"/><circle cx="427.1" cy="1547.1" r="8.8"/><circle cx="435.3" cy="1541.4" r="8.8"/><circle cx="443.5" cy="1535.7" r="8.8"/><circle cx="451.6" cy="1530.0" r="8.8"/><circle cx="459.7" cy="1523.8" r="8.8"/><circle cx="467.8" cy="1517.2" r="8.8"/><circle cx="475.8" cy="1510.6" r="8.8"/><circle cx="482.5" cy="1504.1" r="8.8"/><circle cx="487.7" cy="1499.2" r="8.8"/><circle cx="494.0" cy="1510.3" r="8.8"/><circle cx="504.8" cy="1533.7" r="8.8"/><circle cx="516.6" cy="1549.5" r="8.8"/><circle cx="528.4" cy="1561.5" r="8.8"/><circle cx="540.2" cy="1572.4" r="8.8"/><circle cx="552.0" cy="1581.6" r="8.8"/><circle cx="563.8" cy="1588.0" r="8.8"/><circle cx="575.6" cy="1593.5" r="8.8"/><circle cx="587.4" cy="1598.5" r="8.8"/><circle cx="599.2" cy="1602.4" r="8.8"/><circle cx="611.0" cy="1606.0" r="8.8"/><circle cx="622.8" cy="1609.4" r="8.8"/><circle cx="634.6" cy="1612.4" r="8.8"/><circle cx="646.4" cy="1615.2" r="8.8"/><circle cx="658.2" cy="1617.2" r="8.8"/><circle cx="670.0" cy="1619.1" r="8.8"/><circle cx="681.8" cy="1620.8" r="8.8"/><circle cx="693.6" cy="1622.2" r="8.8"/><circle cx="705.4" cy="1623.5" r="8.8"/><circle cx="717.2" cy="1624.3" r="8.8"/><circle cx="729.0" cy="1625.0" r="8.8"/><circle cx="740.8" cy="1625.5" r="8.8"/><circle cx="752.6" cy="1625.9" r="8.8"/><circle cx="764.4" cy="1626.3" r="8.8"/><circle cx="776.2" cy="1626.7" r="8.8"/><circle cx="788.0" cy="1627.2" r="8.8"/><circle cx="799.8" cy="1627.6" r="8.8"/><circle cx="811.6" cy="1628.0" r="8.8"/><circle cx="823.4" cy="1628.1" r="8.8"/><circle cx="835.2" cy="1628.2" r="8.8"/><circle cx="847.0" cy="1628.3" r="8.8"/><circle cx="858.8" cy="1628.4" r="8.8"/><circle cx="117.0" cy="1149.0" r="8.8"/><circle cx="127.0" cy="1153.1" r="8.8"/><circle cx="136.9" cy="1154.9" r="8.8"/><circle cx="146.8" cy="1151.2" r="8.8"/><circle cx="156.7" cy="1147.5" r="8.8"/><circle cx="166.4" cy="1143.8" r="8.8"/><circle cx="176.2" cy="1140.2" r="8.8"/><circle cx="185.8" cy="1136.5" r="8.8"/><circle cx="195.4" cy="1132.8" r="8.8"/><circle cx="205.0" cy="1129.6" r="8.8"/><circle cx="214.5" cy="1126.9" r="8.8"/><circle cx="223.9" cy="1124.3" r="8.8"/><circle cx="233.3" cy="1122.2" r="8.8"/><circle cx="242.7" cy="1120.2" r="8.8"/><circle cx="252.0" cy="1118.6" r="8.8"/><circle cx="261.2" cy="1117.5" r="8.8"/><circle cx="270.4" cy="1116.5" r="8.8"/><circle cx="279.5" cy="1115.5" r="8.8"/><circle cx="288.6" cy="1114.4" r="8.8"/><circle cx="297.6" cy="1113.3" r="8.8"/><circle cx="306.6" cy="1112.8" r="8.8"/><circle cx="315.5" cy="1112.6" r="8.8"/><circle cx="324.4" cy="1112.4" r="8.8"/><circle cx="333.2" cy="1112.2" r="8.8"/><circle cx="342.0" cy="1112.0" r="8.8"/><circle cx="350.7" cy="1112.0" r="8.8"/><circle cx="359.4" cy="1111.9" r="8.8"/><circle cx="368.0" cy="1111.9" r="8.8"/><circle cx="376.6" cy="1111.9" r="8.8"/><circle cx="385.1" cy="1111.8" r="8.8"/><circle cx="393.6" cy="1111.8" r="8.8"/><circle cx="402.0" cy="1111.8" r="8.8"/><circle cx="410.4" cy="1111.8" r="8.8"/><circle cx="418.8" cy="1111.7" r="8.8"/><circle cx="427.1" cy="1111.7" r="8.8"/><circle cx="435.3" cy="1111.7" r="8.8"/><circle cx="443.5" cy="1111.7" r="8.8"/><circle cx="451.6" cy="1111.6" r="8.8"/><circle cx="459.7" cy="1111.6" r="8.8"/><circle cx="467.8" cy="1111.6" r="8.8"/><circle cx="475.8" cy="1111.5" r="8.8"/><circle cx="482.5" cy="1111.5" r="8.8"/><circle cx="487.7" cy="1111.5" r="8.8"/><circle cx="494.0" cy="1147.3" r="8.8"/><circle cx="499.0" cy="1153.3" r="8.8"/><circle cx="504.0" cy="1158.8" r="8.8"/><circle cx="509.0" cy="1162.8" r="8.8"/><circle cx="514.0" cy="1166.2" r="8.8"/><circle cx="519.0" cy="1167.4" r="8.8"/><circle cx="524.0" cy="1168.6" r="8.8"/><circle cx="529.0" cy="1169.8" r="8.8"/><circle cx="534.0" cy="1170.5" r="8.8"/><circle cx="539.0" cy="1171.1" r="8.8"/><circle cx="544.0" cy="1171.7" r="8.8"/><circle cx="549.0" cy="1172.3" r="8.8"/><circle cx="554.0" cy="1172.9" r="8.8"/><circle cx="559.0" cy="1173.5" r="8.8"/><circle cx="564.0" cy="1174.1" r="8.8"/><circle cx="569.0" cy="1174.6" r="8.8"/><circle cx="574.0" cy="1175.1" r="8.8"/><circle cx="579.0" cy="1175.5" r="8.8"/><circle cx="584.0" cy="1176.0" r="8.8"/><circle cx="589.0" cy="1176.5" r="8.8"/><circle cx="594.0" cy="1176.9" r="8.8"/><circle cx="599.0" cy="1177.4" r="8.8"/><circle cx="604.0" cy="1178.0" r="8.8"/><circle cx="609.0" cy="1178.6" r="8.8"/><circle cx="614.0" cy="1179.2" r="8.8"/><circle cx="619.0" cy="1179.8" r="8.8"/><circle cx="624.0" cy="1180.4" r="8.8"/><circle cx="629.0" cy="1181.0" r="8.8"/><circle cx="634.0" cy="1181.6" r="8.8"/><circle cx="639.0" cy="1182.2" r="8.8"/><circle cx="644.0" cy="1182.8" r="8.8"/><circle cx="649.0" cy="1183.4" r="8.8"/><circle cx="654.0" cy="1184.0" r="8.8"/><circle cx="659.0" cy="1184.5" r="8.8"/><circle cx="664.0" cy="1185.1" r="8.8"/><circle cx="669.0" cy="1185.7" r="8.8"/><circle cx="674.0" cy="1186.2" r="8.8"/><circle cx="679.0" cy="1186.8" r="8.8"/><circle cx="684.0" cy="1187.4" r="8.8"/><circle cx="689.0" cy="1187.9" r="8.8"/><circle cx="694.0" cy="1188.5" r="8.8"/><circle cx="699.0" cy="1189.1" r="8.8"/><circle cx="704.0" cy="1189.6" r="8.8"/><circle cx="709.0" cy="1190.2" r="8.8"/><circle cx="714.0" cy="1190.8" r="8.8"/><circle cx="719.0" cy="1191.4" r="8.8"/><circle cx="724.0" cy="1191.9" r="8.8"/><circle cx="729.0" cy="1192.5" r="8.8"/><circle cx="734.0" cy="1193.0" r="8.8"/><circle cx="739.0" cy="1193.5" r="8.8"/><circle cx="744.0" cy="1194.0" r="8.8"/><circle cx="749.0" cy="1194.5" r="8.8"/><circle cx="754.0" cy="1195.0" r="8.8"/><circle cx="759.0" cy="1195.5" r="8.8"/><circle cx="764.0" cy="1196.0" r="8.8"/><circle cx="769.0" cy="1196.5" r="8.8"/><circle cx="774.0" cy="1197.0" r="8.8"/><circle cx="779.0" cy="1197.5" r="8.8"/><circle cx="784.0" cy="1198.0" r="8.8"/><circle cx="789.0" cy="1198.5" r="8.8"/><circle cx="794.0" cy="1199.0" r="8.8"/><circle cx="799.0" cy="1199.5" r="8.8"/><circle cx="804.0" cy="1200.0" r="8.8"/><circle cx="809.0" cy="1200.5" r="8.8"/><circle cx="814.0" cy="1200.8" r="8.8"/><circle cx="819.0" cy="1201.0" r="8.8"/><circle cx="824.0" cy="1201.2" r="8.8"/><circle cx="829.0" cy="1201.4" r="8.8"/><circle cx="834.0" cy="1201.6" r="8.8"/><circle cx="839.0" cy="1201.7" r="8.8"/><circle cx="844.0" cy="1201.9" r="8.8"/><circle cx="849.0" cy="1202.1" r="8.8"/><circle cx="854.0" cy="1202.3" r="8.8"/><circle cx="859.0" cy="1202.5" r="8.8"/><circle cx="864.0" cy="1202.7" r="8.8"/></g><g fill="#fff" stroke="#000" stroke-width="3.4"><circle cx="119.0" cy="1610.8" r="6.9"/><circle cx="135.0" cy="1606.3" r="6.9"/><circle cx="151.0" cy="1600.6" r="6.9"/><circle cx="166.9" cy="1594.9" r="6.9"/><circle cx="182.8" cy="1590.4" r="6.9"/><circle cx="198.6" cy="1586.7" r="6.9"/><circle cx="214.4" cy="1581.7" r="6.9"/><circle cx="230.2" cy="1575.8" r="6.9"/><circle cx="245.9" cy="1569.4" r="6.9"/><circle cx="261.6" cy="1566.7" r="6.9"/><circle cx="277.3" cy="1563.7" r="6.9"/><circle cx="292.9" cy="1558.3" r="6.9"/><circle cx="308.5" cy="1553.8" r="6.9"/><circle cx="324.0" cy="1548.3" r="6.9"/><circle cx="339.5" cy="1541.3" r="6.9"/><circle cx="351.1" cy="1536.3" r="6.9"/><circle cx="362.4" cy="1530.8" r="6.9"/><circle cx="373.3" cy="1526.7" r="6.9"/><circle cx="384.0" cy="1523.0" r="6.9"/><circle cx="394.4" cy="1519.7" r="6.9"/><circle cx="404.5" cy="1516.3" r="6.9"/><circle cx="414.4" cy="1511.5" r="6.9"/><circle cx="424.0" cy="1505.7" r="6.9"/><circle cx="433.3" cy="1500.4" r="6.9"/><circle cx="442.2" cy="1495.3" r="6.9"/><circle cx="450.6" cy="1490.1" r="6.9"/><circle cx="458.5" cy="1484.4" r="6.9"/><circle cx="466.1" cy="1476.8" r="6.9"/><circle cx="473.3" cy="1469.2" r="6.9"/><circle cx="479.7" cy="1459.5" r="6.9"/><circle cx="485.1" cy="1452.2" r="6.9"/><circle cx="493.0" cy="1458.9" r="6.9"/><circle cx="505.4" cy="1487.0" r="6.9"/><circle cx="517.8" cy="1503.3" r="6.9"/><circle cx="530.2" cy="1515.7" r="6.9"/><circle cx="542.6" cy="1526.3" r="6.9"/><circle cx="555.0" cy="1534.8" r="6.9"/><circle cx="567.4" cy="1543.0" r="6.9"/><circle cx="579.8" cy="1549.5" r="6.9"/><circle cx="592.2" cy="1555.7" r="6.9"/><circle cx="604.6" cy="1560.1" r="6.9"/><circle cx="617.0" cy="1564.3" r="6.9"/><circle cx="629.4" cy="1567.9" r="6.9"/><circle cx="641.8" cy="1570.4" r="6.9"/><circle cx="654.2" cy="1572.4" r="6.9"/><circle cx="666.6" cy="1574.4" r="6.9"/><circle cx="679.0" cy="1577.9" r="6.9"/><circle cx="691.4" cy="1580.7" r="6.9"/><circle cx="703.8" cy="1582.8" r="6.9"/><circle cx="716.2" cy="1584.8" r="6.9"/><circle cx="728.6" cy="1588.3" r="6.9"/><circle cx="741.0" cy="1592.5" r="6.9"/><circle cx="753.4" cy="1595.9" r="6.9"/><circle cx="765.8" cy="1599.0" r="6.9"/><circle cx="778.2" cy="1601.6" r="6.9"/><circle cx="790.6" cy="1603.8" r="6.9"/><circle cx="803.0" cy="1605.7" r="6.9"/><circle cx="815.4" cy="1607.5" r="6.9"/><circle cx="827.8" cy="1609.6" r="6.9"/><circle cx="840.2" cy="1611.8" r="6.9"/><circle cx="852.6" cy="1614.3" r="6.9"/><circle cx="119.0" cy="1160.3" r="6.9"/><circle cx="135.0" cy="1143.8" r="6.9"/><circle cx="151.0" cy="1138.5" r="6.9"/><circle cx="166.9" cy="1133.4" r="6.9"/><circle cx="182.8" cy="1129.3" r="6.9"/><circle cx="198.6" cy="1124.9" r="6.9"/><circle cx="214.4" cy="1121.3" r="6.9"/><circle cx="230.2" cy="1118.9" r="6.9"/><circle cx="245.9" cy="1117.6" r="6.9"/><circle cx="261.6" cy="1116.5" r="6.9"/><circle cx="277.3" cy="1116.3" r="6.9"/><circle cx="292.9" cy="1116.2" r="6.9"/><circle cx="308.5" cy="1116.1" r="6.9"/><circle cx="324.0" cy="1115.9" r="6.9"/><circle cx="339.5" cy="1115.8" r="6.9"/><circle cx="351.1" cy="1115.7" r="6.9"/><circle cx="362.4" cy="1115.6" r="6.9"/><circle cx="373.3" cy="1115.5" r="6.9"/><circle cx="384.0" cy="1115.4" r="6.9"/><circle cx="394.4" cy="1115.3" r="6.9"/><circle cx="404.5" cy="1115.2" r="6.9"/><circle cx="414.4" cy="1115.1" r="6.9"/><circle cx="424.0" cy="1115.1" r="6.9"/><circle cx="433.3" cy="1115.0" r="6.9"/><circle cx="442.2" cy="1114.9" r="6.9"/><circle cx="450.6" cy="1114.8" r="6.9"/><circle cx="458.5" cy="1114.8" r="6.9"/><circle cx="466.1" cy="1114.7" r="6.9"/><circle cx="473.3" cy="1114.6" r="6.9"/><circle cx="479.7" cy="1114.6" r="6.9"/><circle cx="485.1" cy="1114.5" r="6.9"/><circle cx="493.0" cy="1177.6" r="6.9"/><circle cx="505.4" cy="1192.4" r="6.9"/><circle cx="517.8" cy="1200.5" r="6.9"/><circle cx="530.2" cy="1205.6" r="6.9"/><circle cx="542.6" cy="1208.1" r="6.9"/><circle cx="555.0" cy="1210.3" r="6.9"/><circle cx="567.4" cy="1212.2" r="6.9"/><circle cx="579.8" cy="1214.9" r="6.9"/><circle cx="592.2" cy="1217.9" r="6.9"/><circle cx="604.6" cy="1220.5" r="6.9"/><circle cx="617.0" cy="1222.5" r="6.9"/><circle cx="629.4" cy="1224.4" r="6.9"/><circle cx="641.8" cy="1226.4" r="6.9"/><circle cx="654.2" cy="1228.1" r="6.9"/><circle cx="666.6" cy="1229.7" r="6.9"/><circle cx="679.0" cy="1231.3" r="6.9"/><circle cx="691.4" cy="1232.9" r="6.9"/><circle cx="703.8" cy="1234.5" r="6.9"/><circle cx="716.2" cy="1236.1" r="6.9"/><circle cx="728.6" cy="1237.7" r="6.9"/><circle cx="741.0" cy="1239.3" r="6.9"/><circle cx="753.4" cy="1240.9" r="6.9"/><circle cx="765.8" cy="1242.5" r="6.9"/><circle cx="778.2" cy="1244.0" r="6.9"/><circle cx="790.6" cy="1245.4" r="6.9"/><circle cx="803.0" cy="1246.8" r="6.9"/><circle cx="815.4" cy="1248.2" r="6.9"/><circle cx="827.8" cy="1249.6" r="6.9"/><circle cx="840.2" cy="1251.6" r="6.9"/><circle cx="852.6" cy="1253.8" r="6.9"/></g><g fill="#000"><path d="M110.4 1621.4H128.6L121.4 1637.8H117.6Z"/><path d="M126.2 1618.5H144.4L137.2 1634.9H133.4Z"/><path d="M142.0 1614.5H160.2L153.0 1630.9H149.2Z"/><path d="M157.8 1609.5H176.0L168.8 1625.9H165.0Z"/><path d="M173.6 1604.5H191.8L184.6 1620.9H180.8Z"/><path d="M189.4 1600.4H207.6L200.4 1616.8H196.6Z"/><path d="M205.2 1590.8H223.4L216.2 1607.2H212.4Z"/><path d="M221.0 1580.4H239.2L232.0 1596.8H228.2Z"/><path d="M236.8 1566.8H255.0L247.8 1583.2H244.0Z"/><path d="M252.6 1556.6H270.8L263.6 1573.0H259.8Z"/><path d="M268.4 1543.6H286.6L279.4 1560.0H275.6Z"/><path d="M284.2 1527.9H302.4L295.2 1544.3H291.4Z"/><path d="M300.0 1512.1H318.2L311.0 1528.5H307.2Z"/><path d="M314.4 1497.8H332.6L325.4 1514.2H321.6Z"/><path d="M324.8 1489.3H343.0L335.8 1505.7H332.0Z"/><path d="M335.2 1481.3H353.4L346.2 1497.7H342.4Z"/><path d="M345.4 1473.1H363.6L356.4 1489.5H352.6Z"/><path d="M355.6 1466.8H373.8L366.6 1483.2H362.8Z"/><path d="M365.6 1459.7H383.8L376.6 1476.1H372.8Z"/><path d="M375.6 1452.3H393.8L386.6 1468.7H382.8Z"/><path d="M385.4 1444.9H403.6L396.4 1461.3H392.6Z"/><path d="M395.2 1437.9H413.4L406.2 1454.3H402.4Z"/><path d="M404.9 1431.9H423.1L415.9 1448.3H412.1Z"/><path d="M414.4 1425.2H432.6L425.4 1441.6H421.6Z"/><path d="M423.8 1418.1H442.0L434.8 1434.5H431.0Z"/><path d="M432.9 1411.3H451.1L443.9 1427.7H440.1Z"/><path d="M441.8 1404.7H460.0L452.8 1421.1H449.0Z"/><path d="M450.3 1398.2H468.5L461.3 1414.6H457.5Z"/><path d="M458.7 1392.0H476.9L469.7 1408.4H465.9Z"/><path d="M466.7 1385.0H484.9L477.7 1401.4H473.9Z"/><path d="M473.8 1378.9H492.0L484.8 1395.3H481.0Z"/><path d="M490.2 1396.9H508.4L501.2 1413.3H497.4Z"/><path d="M502.4 1408.1H520.6L513.4 1424.5H509.6Z"/><path d="M514.5 1418.3H532.7L525.5 1434.7H521.7Z"/><path d="M526.7 1428.5H544.9L537.7 1444.9H533.9Z"/><path d="M538.9 1438.7H557.1L549.9 1455.1H546.1Z"/><path d="M551.1 1447.7H569.3L562.1 1464.1H558.3Z"/><path d="M563.2 1456.0H581.4L574.2 1472.4H570.4Z"/><path d="M575.4 1463.8H593.6L586.4 1480.2H582.6Z"/><path d="M587.6 1469.9H605.8L598.6 1486.3H594.8Z"/><path d="M599.8 1475.1H618.0L610.8 1491.5H607.0Z"/><path d="M611.9 1481.0H630.1L622.9 1497.5H619.1Z"/><path d="M624.1 1486.3H642.3L635.1 1502.7H631.3Z"/><path d="M636.3 1493.6H654.5L647.3 1510.0H643.5Z"/><path d="M648.5 1500.8H666.7L659.5 1517.2H655.7Z"/><path d="M660.6 1508.5H678.8L671.6 1524.9H667.8Z"/><path d="M672.8 1516.7H691.0L683.8 1533.1H680.0Z"/><path d="M685.0 1529.4H703.2L696.0 1545.8H692.2Z"/><path d="M697.1 1541.5H715.3L708.1 1557.9H704.3Z"/><path d="M709.3 1552.8H727.5L720.3 1569.2H716.5Z"/><path d="M721.5 1563.1H739.7L732.5 1579.5H728.7Z"/><path d="M733.7 1572.3H751.9L744.7 1588.7H740.9Z"/><path d="M745.8 1581.4H764.0L756.8 1597.8H753.0Z"/><path d="M758.0 1589.1H776.2L769.0 1605.5H765.2Z"/><path d="M770.2 1595.0H788.4L781.2 1611.4H777.4Z"/><path d="M782.4 1598.6H800.6L793.4 1615.0H789.6Z"/><path d="M794.5 1602.3H812.7L805.5 1618.7H801.7Z"/><path d="M806.7 1605.7H824.9L817.7 1622.1H813.9Z"/><path d="M818.9 1608.7H837.1L829.9 1625.1H826.1Z"/><path d="M831.1 1611.2H849.3L842.1 1627.6H838.3Z"/><path d="M843.2 1613.5H861.4L854.2 1629.9H850.4Z"/><path d="M855.4 1615.5H873.6L866.4 1631.9H862.6Z"/><path d="M110.4 1180.8H128.6L121.4 1197.2H117.6Z"/><path d="M126.2 1152.9H144.4L137.2 1169.3H133.4Z"/><path d="M142.0 1146.0H160.2L153.0 1162.4H149.2Z"/><path d="M157.8 1140.7H176.0L168.8 1157.1H165.0Z"/><path d="M173.6 1134.5H191.8L184.6 1150.9H180.8Z"/><path d="M189.4 1128.1H207.6L200.4 1144.5H196.6Z"/><path d="M205.2 1121.6H223.4L216.2 1138.0H212.4Z"/><path d="M221.0 1117.0H239.2L232.0 1133.4H228.2Z"/><path d="M236.8 1115.3H255.0L247.8 1131.7H244.0Z"/><path d="M252.6 1114.3H270.8L263.6 1130.7H259.8Z"/><path d="M268.4 1113.2H286.6L279.4 1129.6H275.6Z"/><path d="M284.2 1111.3H302.4L295.2 1127.7H291.4Z"/><path d="M300.0 1110.0H318.2L311.0 1126.4H307.2Z"/><path d="M314.4 1109.1H332.6L325.4 1125.5H321.6Z"/><path d="M324.8 1108.4H343.0L335.8 1124.8H332.0Z"/><path d="M335.2 1107.9H353.4L346.2 1124.3H342.4Z"/><path d="M345.4 1107.7H363.6L356.4 1124.1H352.6Z"/><path d="M355.6 1107.4H373.8L366.6 1123.8H362.8Z"/><path d="M365.6 1107.2H383.8L376.6 1123.6H372.8Z"/><path d="M375.6 1107.0H393.8L386.6 1123.4H382.8Z"/><path d="M385.4 1107.0H403.6L396.4 1123.4H392.6Z"/><path d="M395.2 1106.9H413.4L406.2 1123.3H402.4Z"/><path d="M404.9 1106.9H423.1L415.9 1123.3H412.1Z"/><path d="M414.4 1106.8H432.6L425.4 1123.2H421.6Z"/><path d="M423.8 1106.8H442.0L434.8 1123.2H431.0Z"/><path d="M432.9 1106.7H451.1L443.9 1123.1H440.1Z"/><path d="M441.8 1106.7H460.0L452.8 1123.1H449.0Z"/><path d="M450.3 1106.7H468.5L461.3 1123.1H457.5Z"/><path d="M458.7 1106.6H476.9L469.7 1123.0H465.9Z"/><path d="M466.7 1106.6H484.9L477.7 1123.0H473.9Z"/><path d="M473.8 1106.6H492.0L484.8 1123.0H481.0Z"/><path d="M490.2 1197.0H508.4L501.2 1213.4H497.4Z"/><path d="M502.4 1204.4H520.6L513.4 1220.8H509.6Z"/><path d="M514.5 1209.5H532.7L525.5 1225.9H521.7Z"/><path d="M526.7 1213.1H544.9L537.7 1229.5H533.9Z"/><path d="M538.9 1216.9H557.1L549.9 1233.3H546.1Z"/><path d="M551.1 1219.4H569.3L562.1 1235.8H558.3Z"/><path d="M563.2 1221.1H581.4L574.2 1237.5H570.4Z"/><path d="M575.4 1223.8H593.6L586.4 1240.2H582.6Z"/><path d="M587.6 1227.2H605.8L598.6 1243.6H594.8Z"/><path d="M599.8 1230.5H618.0L610.8 1246.9H607.0Z"/><path d="M611.9 1233.8H630.1L622.9 1250.2H619.1Z"/><path d="M624.1 1237.2H642.3L635.1 1253.6H631.3Z"/><path d="M636.3 1240.5H654.5L647.3 1256.9H643.5Z"/><path d="M648.5 1243.3H666.7L659.5 1259.7H655.7Z"/><path d="M660.6 1246.0H678.8L671.6 1262.4H667.8Z"/><path d="M672.8 1248.8H691.0L683.8 1265.2H680.0Z"/><path d="M685.0 1251.5H703.2L696.0 1267.9H692.2Z"/><path d="M697.1 1254.3H715.3L708.1 1270.7H704.3Z"/><path d="M709.3 1257.7H727.5L720.3 1274.1H716.5Z"/><path d="M721.5 1261.2H739.7L732.5 1277.6H728.7Z"/><path d="M733.7 1264.7H751.9L744.7 1281.1H740.9Z"/><path d="M745.8 1268.9H764.0L756.8 1285.3H753.0Z"/><path d="M758.0 1273.6H776.2L769.0 1290.0H765.2Z"/><path d="M770.2 1278.4H788.4L781.2 1294.8H777.4Z"/><path d="M782.4 1283.1H800.6L793.4 1299.5H789.6Z"/><path d="M794.5 1288.1H812.7L805.5 1304.5H801.7Z"/><path d="M806.7 1293.1H824.9L817.7 1309.5H813.9Z"/><path d="M818.9 1300.0H837.1L829.9 1316.4H826.1Z"/><path d="M831.1 1307.7H849.3L842.1 1324.1H838.3Z"/><path d="M843.2 1323.6H861.4L854.2 1340.0H850.4Z"/><path d="M855.4 1345.6H873.6L866.4 1362.0H862.6Z"/></g>
<path d="M149.0 1066.5H168.0M191.5 1066.5H210.5M233.9 1066.5H252.9M275.8 1066.5H294.8M319.2 1066.5H338.2M361.1 1066.5H380.1M404.5 1066.5H423.5M446.5 1066.5H465.5M524.9 1066.5H544.4M568.4 1066.5H587.9M611.8 1066.5H631.3M655.2 1066.5H674.7M698.7 1066.5H718.2M742.1 1066.5H761.6M785.5 1066.5H805.0M826.9 1066.5H846.4" stroke="#000" stroke-width="3.2" fill="none" stroke-linecap="round"/>
<path d="M112.0 1066.5L133.0 1057.8L125.0 1066.5L133.0 1075.2Z" fill="#000"/>
<path d="M485.5 1066.5L463.0 1057.5L471.0 1066.5L463.0 1075.5Z" fill="#000"/>
<path d="M487.5 1066.5L509.5 1058.2L501.5 1066.5L509.5 1074.8Z" fill="#000"/>
<path d="M862.5 1066.5L836.5 1058.0L844.5 1066.5L836.5 1075.0Z" fill="#000"/>
<rect x="111.3" y="947.5" width="752.5" height="753.4" fill="none" stroke="#1a1a1a" stroke-width="3.8" stroke-linejoin="round"/><path d="M300.1 1700.9V1685.9M300.1 947.5V962.5M488.9 1700.9V1685.9M488.9 947.5V962.5M676.3 1700.9V1685.9M676.3 947.5V962.5M111.3 1550.2H126.3M111.3 1399.5H126.3M111.3 1248.9H126.3M111.3 1098.2H126.3M863.8 1550.2H848.8M863.8 1399.5H848.8M863.8 1248.9H848.8M863.8 1098.2H848.8" stroke="#1a1a1a" stroke-width="3" fill="none"/>
<rect x="119.5" y="1221.2" width="275.1" height="153.79999999999995" rx="4" fill="#000"/><rect x="116.5" y="1218.2" width="268.1" height="147.29999999999995" rx="2" fill="#fff" stroke="#000" stroke-width="3"/><circle cx="182.7" cy="1256.3" r="9.3" fill="#000"/><circle cx="182.7" cy="1296" r="7.8" fill="#fff" stroke="#000" stroke-width="3.4"/><g fill="#000"><path d="M172.9 1326.2H192.4L184.6 1345.2H180.8Z"/></g><text transform="translate(239.0,1267.8) scale(1.0,1.06)" font-family="'Liberation Sans', Arial, sans-serif" font-size="33.8" text-anchor="start" fill="#111" stroke="#111" stroke-width="1.1" >Cycle 20</text><text transform="translate(239.0,1307.5) scale(1.0,1.06)" font-family="'Liberation Sans', Arial, sans-serif" font-size="33.8" text-anchor="start" fill="#111" stroke="#111" stroke-width="1.1" >2220</text><text transform="translate(239.0,1347.3) scale(1.0,1.06)" font-family="'Liberation Sans', Arial, sans-serif" font-size="33.8" text-anchor="start" fill="#111" stroke="#111" stroke-width="1.1" >3655</text>
<path d="M431.1 1130.3V1189.3H392" fill="none" stroke="#1a1a1a" stroke-width="3.4"/>
<path d="M376.0 1189.3L402.5 1180.3L394.0 1189.3L402.5 1198.3Z" fill="#000"/>
<path d="M611.5 1455V1376.5H654" fill="none" stroke="#1a1a1a" stroke-width="3.4"/>
<path d="M668.2 1376.5L641.7 1367.5L650.2 1376.5L641.7 1385.5Z" fill="#000"/>
<text transform="translate(246.4,1042.0)" font-family="'Liberation Serif', 'Times New Roman', serif" font-size="37" text-anchor="start" fill="#111" stroke="#111" stroke-width="1.1" >Charge</text>
<text transform="translate(589.6,1043.4)" font-family="'Liberation Serif', 'Times New Roman', serif" font-size="37.5" text-anchor="start" fill="#111" stroke="#111" stroke-width="1.1" >Discharge</text>
<text transform="translate(96.5,1708.4) scale(1.0,1.1)" font-family="'Liberation Serif', 'Times New Roman', serif" font-size="37" text-anchor="end" fill="#111" stroke="#111" stroke-width="1.1" >2.0</text>
<text transform="translate(96.5,1557.7) scale(1.0,1.1)" font-family="'Liberation Serif', 'Times New Roman', serif" font-size="37" text-anchor="end" fill="#111" stroke="#111" stroke-width="1.1" >2.5</text>
<text transform="translate(96.5,1407.0) scale(1.0,1.1)" font-family="'Liberation Serif', 'Times New Roman', serif" font-size="37" text-anchor="end" fill="#111" stroke="#111" stroke-width="1.1" >3.0</text>
<text transform="translate(96.5,1256.4) scale(1.0,1.1)" font-family="'Liberation Serif', 'Times New Roman', serif" font-size="37" text-anchor="end" fill="#111" stroke="#111" stroke-width="1.1" >3.5</text>
<text transform="translate(96.5,1105.7) scale(1.0,1.1)" font-family="'Liberation Serif', 'Times New Roman', serif" font-size="37" text-anchor="end" fill="#111" stroke="#111" stroke-width="1.1" >4.0</text>
<text transform="translate(96.5,955.0) scale(1.0,1.1)" font-family="'Liberation Serif', 'Times New Roman', serif" font-size="37" text-anchor="end" fill="#111" stroke="#111" stroke-width="1.1" >4.5</text>
<text transform="translate(877.5,1709.3) scale(1.0,1.1)" font-family="'Liberation Serif', 'Times New Roman', serif" font-size="36" text-anchor="start" fill="#111" stroke="#111" stroke-width="1.1" >0.8</text>
<text transform="translate(877.5,1558.6) scale(1.0,1.1)" font-family="'Liberation Serif', 'Times New Roman', serif" font-size="36" text-anchor="start" fill="#111" stroke="#111" stroke-width="1.1" >1.0</text>
<text transform="translate(877.5,1407.9) scale(1.0,1.1)" font-family="'Liberation Serif', 'Times New Roman', serif" font-size="36" text-anchor="start" fill="#111" stroke="#111" stroke-width="1.1" >1.2</text>
<text transform="translate(877.5,1257.3) scale(1.0,1.1)" font-family="'Liberation Serif', 'Times New Roman', serif" font-size="36" text-anchor="start" fill="#111" stroke="#111" stroke-width="1.1" >1.4</text>
<text transform="translate(877.5,1106.6) scale(1.0,1.1)" font-family="'Liberation Serif', 'Times New Roman', serif" font-size="36" text-anchor="start" fill="#111" stroke="#111" stroke-width="1.1" >1.6</text>
<text transform="translate(877.5,955.9) scale(1.0,1.1)" font-family="'Liberation Serif', 'Times New Roman', serif" font-size="36" text-anchor="start" fill="#111" stroke="#111" stroke-width="1.1" >1.8</text>
<text transform="translate(111.8,1747.8) scale(0.92,1.0)" font-family="'Liberation Sans', Arial, sans-serif" font-size="36" text-anchor="middle" fill="#111" stroke="#111" stroke-width="1.1" >0</text>
<text transform="translate(299.0,1747.8) scale(0.87,1.0)" font-family="'Liberation Sans', Arial, sans-serif" font-size="36" text-anchor="middle" fill="#111" stroke="#111" stroke-width="1.1" >20</text>
<text transform="translate(460.6,1747.5) scale(0.86,1.0)" font-family="'Liberation Sans', Arial, sans-serif" font-size="36" text-anchor="middle" fill="#111" stroke="#111" stroke-width="1.1" >40</text>
<text transform="translate(494.8,1747.5)" font-family="'Liberation Sans', Arial, sans-serif" font-size="36" text-anchor="middle" fill="#111" stroke="#111" stroke-width="1.1" >/</text>
<text transform="translate(521.0,1747.5) scale(0.86,1.0)" font-family="'Liberation Sans', Arial, sans-serif" font-size="36" text-anchor="middle" fill="#111" stroke="#111" stroke-width="1.1" >0</text>
<text transform="translate(674.3,1747.8) scale(0.87,1.0)" font-family="'Liberation Sans', Arial, sans-serif" font-size="36" text-anchor="middle" fill="#111" stroke="#111" stroke-width="1.1" >20</text>
<text transform="translate(863.0,1747.8) scale(0.9,1.0)" font-family="'Liberation Sans', Arial, sans-serif" font-size="36" text-anchor="middle" fill="#111" stroke="#111" stroke-width="1.1" >40</text>
<text transform="translate(321.7,1795.0) scale(1.0,1.05)" font-family="'Liberation Sans', Arial, sans-serif" font-size="34.5" text-anchor="middle" fill="#111" stroke="#111" stroke-width="1.1" >SOC / %</text>
<text transform="translate(668.5,1794.5) scale(1.0,1.03)" font-family="'Liberation Sans', Arial, sans-serif" font-size="35.5" text-anchor="middle" fill="#111" stroke="#111" stroke-width="1.1" >DOD / %</text>
<text transform="translate(29.0,1323.3) rotate(-90)" font-family="'Liberation Serif', 'Times New Roman', serif" font-size="38.3" text-anchor="middle" fill="#111" stroke="#111" stroke-width="1.1" >Voltage / V</text>
<text transform="translate(965.5,1317.5) rotate(-90)" font-family="'Liberation Serif', 'Times New Roman', serif" font-size="38.5" text-anchor="middle" fill="#111" stroke="#111" stroke-width="1.1" >Strain / kN</text>
<text transform="translate(-2.0,1786.0)" font-family="'Liberation Sans', Arial, sans-serif" font-size="36" text-anchor="start" fill="#111" stroke="#111" stroke-width="1.1" >(b)</text>
</svg>
</body></html>
